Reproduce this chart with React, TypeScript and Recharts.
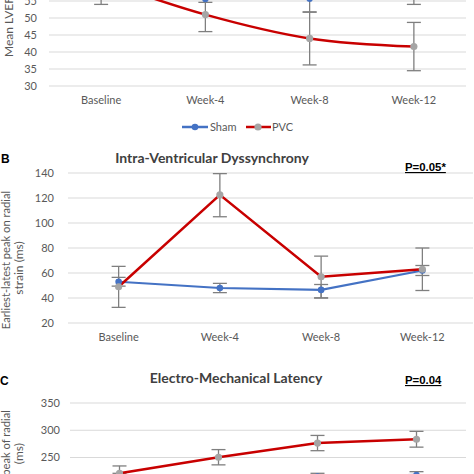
import React from "react";
import { LineChart, Line, XAxis, YAxis, CartesianGrid, ErrorBar } from "recharts";

const weeks = ["Baseline", "Week-4", "Week-8", "Week-12"];

// A: mean LVEF (%)
const lvefSham = [60, 55.6, 55.7, 58];
const lvefShamErr = [6, 1, 4, 4];
const lvefPvc = [61, 51, 44, 41.6];
const lvefPvcErr = [4, 5, 7.8, 7.1];
const lvefTicks = [30, 35, 40, 45, 50, 55];

// B: intra-ventricular dyssynchrony (ms)
const dyssSham = [53, 48, 46.5, 62];
const dyssShamErr = [[3.5, 3.5], [3.7, 3.7], [6.4, 4.3], [4, 4]];
const dyssPvc = [49, 122.5, 57, 63];
const dyssPvcErr = [[16.5, 16.3], [17.5, 17], [17, 16.5], [17, 17]];
const dyssTicks = [20, 40, 60, 80, 100, 120, 140];

// C: electro-mechanical latency (ms)
const emlSham = [215, 212, 215, 218];
const emlShamErr = [6, 6, 6, 6];
const emlPvc = [221, 250.5, 276.5, 283.5];
const emlPvcErr = [13.5, 14, 14, 14.5];
const emlTicks = [250, 300, 350];

const BLUE = "#4472C4";
const RED = "#C80000";
const DOT_GREY = "#A5A5A5";
const ERR_GREY = "#7F7F7F";
const GRID = "#D9D9D9";
const AXIS_TEXT = "#595959";
const FONT = "Lato, 'Open Sans', sans-serif";

const rows = (sham: number[], shamErr: unknown[], pvc: number[], pvcErr: unknown[]) =>
  weeks.map((week, i) => ({ week, sham: sham[i], shamErr: shamErr[i], pvc: pvc[i], pvcErr: pvcErr[i] }));

function Panel({
  data,
  top,
  height,
  axisWidth,
  right,
  domain,
  ticks,
  tickMargin,
  smooth,
}: {
  data: ReturnType<typeof rows>;
  top: number;
  height: number;
  axisWidth: number;
  right: number;
  domain: [number, number];
  ticks: number[];
  tickMargin: number;
  smooth?: boolean;
}) {
  const type = smooth ? "monotone" : "linear";
  return (
    <div style={{ position: "absolute", left: 0, top }}>
      <LineChart width={474} height={height} data={data} margin={{ top: 10, right, left: 0, bottom: 0 }}>
        <CartesianGrid stroke={GRID} vertical={false} />
        <XAxis
          dataKey="week"
          scale="band"
          interval={0}
          height={30}
          tickMargin={4}
          tick={{ fontSize: 11, fill: AXIS_TEXT, fontFamily: FONT }}
          axisLine={false}
          tickLine={false}
        />
        <YAxis
          type="number"
          width={axisWidth}
          domain={domain}
          ticks={ticks}
          interval={0}
          allowDataOverflow
          tickMargin={tickMargin}
          tick={{ fontSize: 11, fill: AXIS_TEXT, fontFamily: FONT }}
          axisLine={false}
          tickLine={false}
        />
        <Line
          type={type}
          dataKey="sham"
          stroke={BLUE}
          strokeWidth={2.2}
          dot={{ r: 3.3, fill: BLUE, stroke: BLUE, strokeWidth: 0 }}
          isAnimationActive={false}
        >
          <ErrorBar dataKey="shamErr" direction="y" width={7} stroke={ERR_GREY} strokeWidth={1.3} isAnimationActive={false} />
        </Line>
        <Line
          type={type}
          dataKey="pvc"
          stroke={RED}
          strokeWidth={2.5}
          dot={{ r: 3.6, fill: DOT_GREY, stroke: DOT_GREY, strokeWidth: 0 }}
          isAnimationActive={false}
        >
          <ErrorBar dataKey="pvcErr" direction="y" width={7} stroke={ERR_GREY} strokeWidth={1.3} isAnimationActive={false} />
        </Line>
      </LineChart>
    </div>
  );
}

export default function App() {
  const lvef = rows(lvefSham, lvefShamErr, lvefPvc, lvefPvcErr);
  const dyss = rows(dyssSham, dyssShamErr, dyssPvc, dyssPvcErr);
  const eml = rows(emlSham, emlShamErr, emlPvc, emlPvcErr);
  const label = { fontFamily: FONT, fontSize: 12, fill: AXIS_TEXT };
  const longLabel = { ...label, fontSize: 11.2 };
  const title = { fontFamily: FONT, fontSize: 14, fontWeight: 700, fill: "#404040" };
  const pval = { fontFamily: "'Liberation Sans', Arial, sans-serif", fontSize: 11.4, fontWeight: 700, fill: "#000", textDecoration: "underline" };
  const letter = { fontFamily: "'Liberation Sans', Arial, sans-serif", fontSize: 12, fontWeight: 700, fill: "#000" };
  return (
    <div style={{ position: "fixed", left: 0, top: 0, width: 474, height: 474, overflow: "hidden", background: "#fff" }}>
      <Panel data={lvef} top={-43} height={159} axisWidth={49} right={8} domain={[30, 65]} ticks={lvefTicks} tickMargin={6} smooth />
      <Panel data={dyss} top={163} height={190} axisWidth={68} right={1} domain={[20, 140]} ticks={dyssTicks} tickMargin={8} />
      <Panel data={eml} top={393} height={149} axisWidth={70} right={8} domain={[150, 350]} ticks={emlTicks} tickMargin={4} />

      <svg width={474} height={474} style={{ position: "absolute", left: 0, top: 0, pointerEvents: "none" }}>
        {/* A */}
        <text x={12.5} y={57} transform="rotate(-90 12.5 57)" style={label}>Mean LVEF (%)</text>
        <line x1={182} y1={127} x2={208} y2={127} stroke={BLUE} strokeWidth={2.5} />
        <circle cx={195} cy={127} r={3.3} fill={BLUE} />
        <text x={210} y={131} style={{ ...label, fontSize: 11 }}>Sham</text>
        <line x1={246} y1={127} x2={271} y2={127} stroke={RED} strokeWidth={2.5} />
        <circle cx={258} cy={127} r={3.6} fill={DOT_GREY} />
        <text x={272} y={131} style={{ ...label, fontSize: 11 }}>PVC</text>

        {/* B */}
        <text x={1} y={163} style={letter}>B</text>
        <text x={212} y={163} textAnchor="middle" style={title}>Intra-Ventricular Dyssynchrony</text>
        <text x={405} y={171} style={pval}>P=0.05*</text>
        <text x={9.5} y={260} textAnchor="middle" transform="rotate(-90 9.5 260)" style={longLabel}>Earliest-latest peak on radial</text>
        <text x={22.5} y={268} textAnchor="middle" transform="rotate(-90 22.5 268)" style={label}>strain (ms)</text>

        {/* C */}
        <text x={0} y={385} style={letter}>C</text>
        <text x={236} y={383} textAnchor="middle" style={title}>Electro-Mechanical Latency</text>
        <text x={405} y={384} style={pval}>P=0.04</text>
        <text x={9.5} y={410} textAnchor="end" transform="rotate(-90 9.5 410)" style={longLabel}>QRS onset to peak of radial</text>
        <text x={22.5} y={443} textAnchor="end" transform="rotate(-90 22.5 443)" style={label}>(ms)</text>
      </svg>
    </div>
  );
}
